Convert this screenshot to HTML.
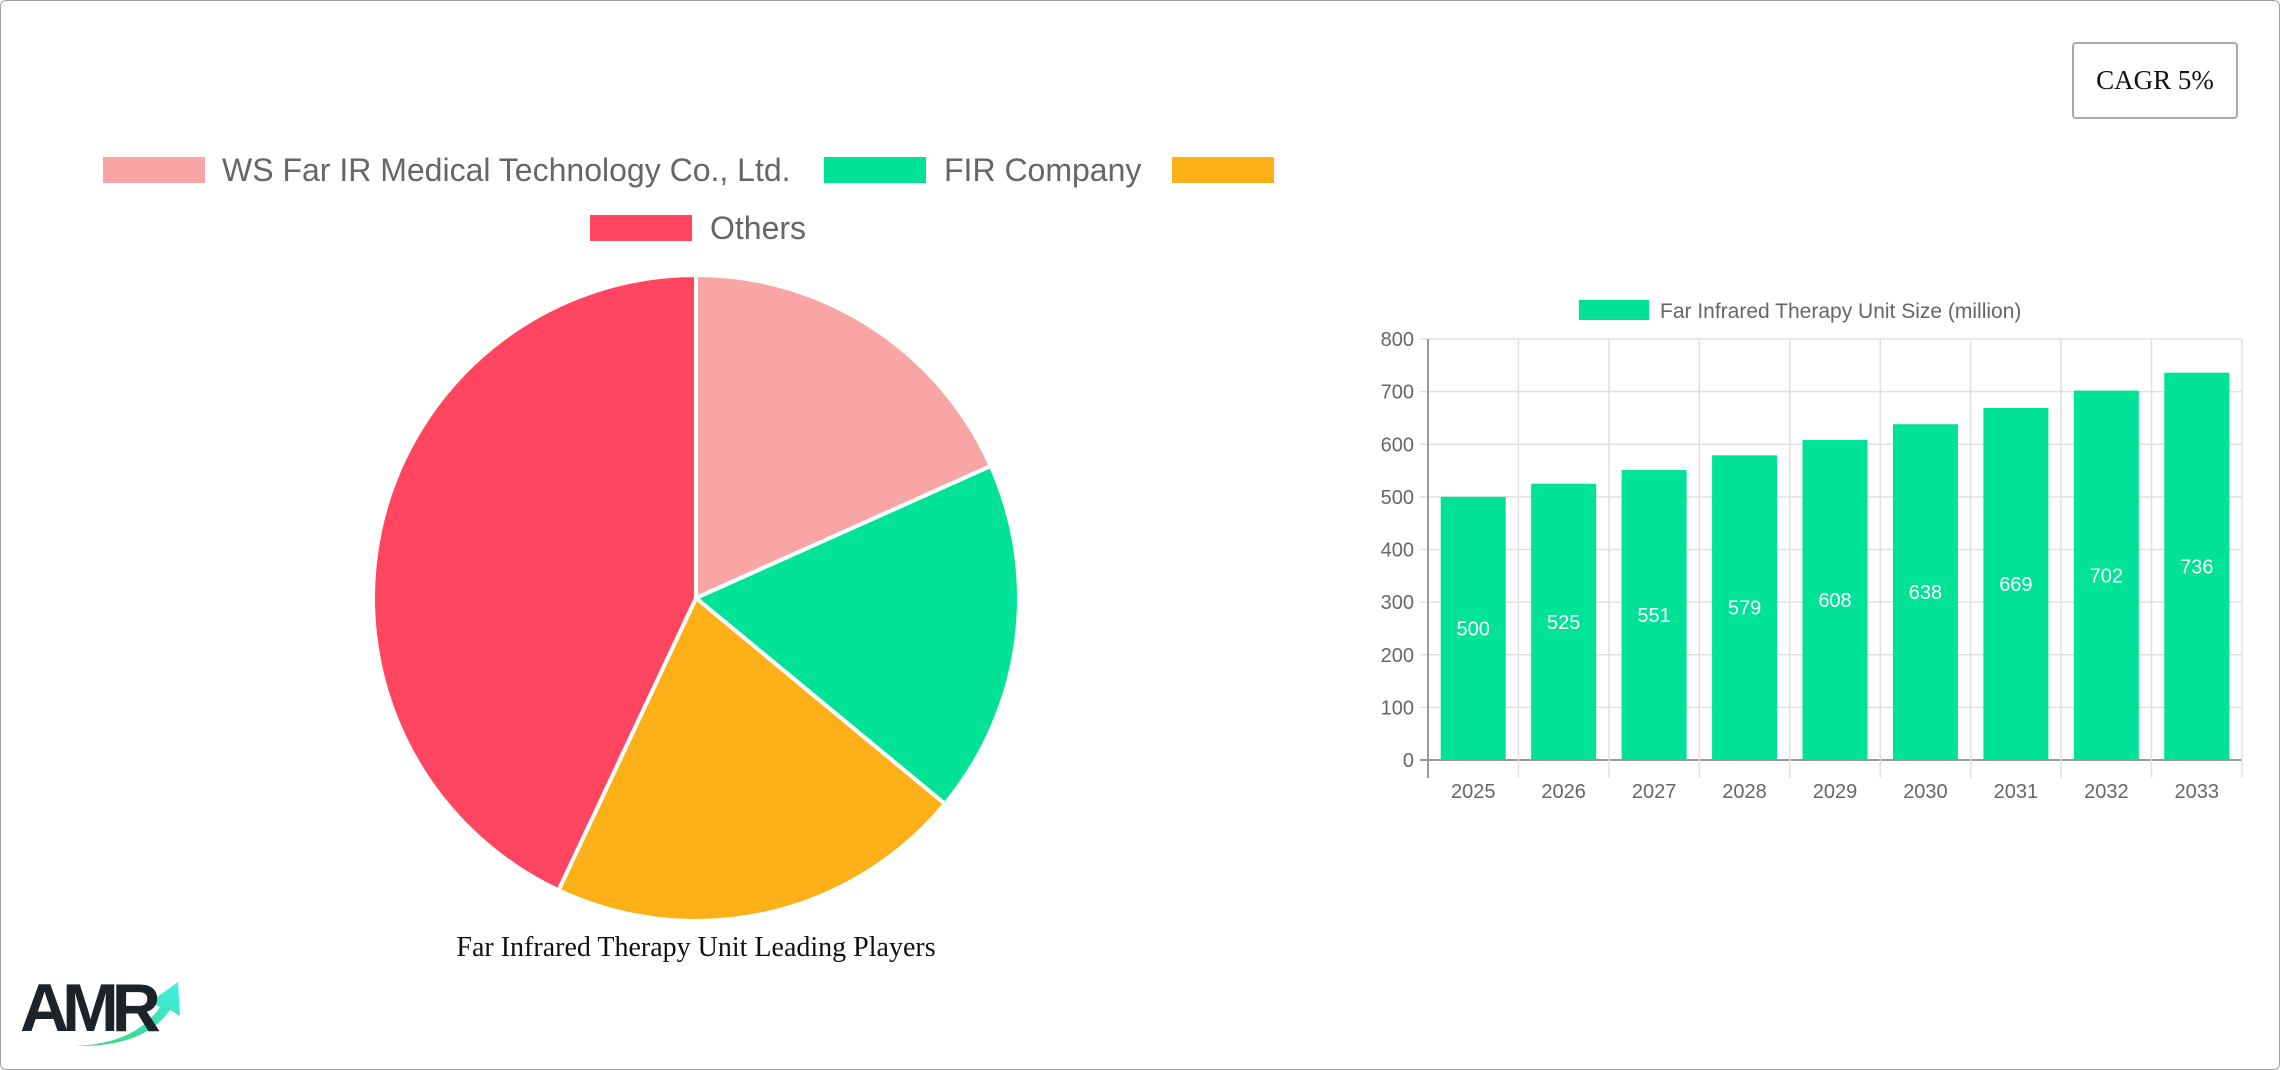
<!DOCTYPE html>
<html><head><meta charset="utf-8"><style>
html,body{margin:0;padding:0;background:#fff;}
#root{position:relative;width:2280px;height:1070px;overflow:hidden;font-family:"Liberation Sans",sans-serif;}
#frame{position:absolute;left:0;top:0;width:2278px;height:1068px;border:1px solid #a0a0a0;border-radius:6px;}
#cagr{position:absolute;left:2072px;top:42px;width:162px;height:73px;border:2px solid #aaa;border-radius:4px;font-family:"Liberation Serif",serif;font-size:27px;color:#111;display:flex;align-items:center;justify-content:center;}
.leg{position:absolute;font-size:32px;color:#666;line-height:32px;}
.box{position:absolute;height:26px;width:102px;}
#ptitle{position:absolute;left:296px;width:800px;top:932px;text-align:center;font-family:"Liberation Serif",serif;font-size:28px;color:#111;}
</style></head><body>
<div id="root">
<div id="frame"></div>
<div id="cagr">CAGR 5%</div>

<div class="box" style="left:103px;top:157px;background:#f9a5a6"></div>
<div class="leg" style="left:222px;top:154px">WS Far IR Medical Technology Co., Ltd.</div>
<div class="box" style="left:824px;top:157px;background:#00e396"></div>
<div class="leg" style="left:944px;top:154px">FIR Company</div>
<div class="box" style="left:1172px;top:157px;background:#feb019"></div>
<div class="box" style="left:590px;top:215px;background:#ff4560"></div>
<div class="leg" style="left:710px;top:212px">Others</div>

<svg id="pie" width="2280" height="1070" style="position:absolute;left:0;top:0"></svg>
<div id="ptitle">Far Infrared Therapy Unit Leading Players</div>

<svg id="bar" width="2280" height="1070" style="position:absolute;left:0;top:0"></svg>

<div style="position:absolute;left:20px;top:972px;width:170px;height:80px;">
<svg width="170" height="80" style="position:absolute;left:0;top:0">
<defs><linearGradient id="g" x1="0" y1="1" x2="1" y2="0"><stop offset="0" stop-color="#3ecf6e"/><stop offset="1" stop-color="#3ff0e8"/></linearGradient></defs>
<path d="M55 74 Q115 72 140 35 L130 30 L158 10 L160 44 L150 38 Q125 75 55 74 Z" fill="url(#g)"/>
</svg>
<div style="position:absolute;left:0;top:0;font-family:'Liberation Sans',sans-serif;font-weight:bold;font-size:68px;letter-spacing:-7px;color:#1c2429;line-height:72px;">AMR</div>
</div>
</div>
<script>
const pieLabels=["WS Far IR Medical Technology Co., Ltd.","FIR Company","Third Player","Others"];
const pieValues=[18.3,17.7,21,43];
const pieColors=["#f9a5a6","#00e396","#feb019","#ff4560"];
const years=["2025","2026","2027","2028","2029","2030","2031","2032","2033"];
const sizes=[500,525,551,579,608,638,669,702,736];
const yTicks=[0,100,200,300,400,500,600,700,800];
const NS="http://www.w3.org/2000/svg";
function mk(p,t,a){const e=document.createElementNS(NS,t);for(const k in a)e.setAttribute(k,a[k]);p.appendChild(e);return e;}
const pie=document.getElementById('pie');
const cx=696,cy=598,r=323;
const tot=pieValues.reduce((a,b)=>a+b,0);
let ang=0;
pieValues.forEach((v,i)=>{
  const a0=ang,a1=ang+v/tot*2*Math.PI;ang=a1;
  const x0=cx+r*Math.sin(a0),y0=cy-r*Math.cos(a0),x1=cx+r*Math.sin(a1),y1=cy-r*Math.cos(a1);
  const p=mk(pie,'path',{d:`M${cx} ${cy} L${x0} ${y0} A${r} ${r} 0 ${a1-a0>Math.PI?1:0} 1 ${x1} ${y1} Z`,fill:pieColors[i],stroke:'#fff','stroke-width':4});
  
  
});
const bar=document.getElementById('bar');
const L=1428,R=2242,T=339,B=760,ymax=800;
const yS=v=>B-(v/ymax)*(B-T);
const cw=(R-L)/years.length;
yTicks.forEach(t=>{
  const y=yS(t);
  const gl=mk(bar,'line',{x1:L-8,x2:R,y1:y,y2:y,stroke:t===0?'#999':'#e0e0e0','stroke-width':t===0?2:1.5});
  
  
  const tx=mk(bar,'text',{x:L-14,y:y+7,'text-anchor':'end','font-size':20,fill:'#666','font-family':'Liberation Sans'});
  tx.textContent=t;
  
  
});
for(let i=0;i<=years.length;i++){
  const x=L+i*cw;
  const vl=mk(bar,'line',{x1:x,x2:x,y1:T,y2:B+18,stroke:i===0?'#999':'#e0e0e0','stroke-width':i===0?2:1.5});
  
  
}
years.forEach((yr,i)=>{
  const xc=L+cw*(i+0.5),bw=65,y=yS(sizes[i]);
  const rc=mk(bar,'rect',{x:xc-bw/2,y:y,width:bw,height:B-y,fill:'#00e396'});
  
  
  const vt=mk(bar,'text',{x:xc,y:(y+B)/2+7,'text-anchor':'middle','font-size':20,fill:'#fff','font-family':'Liberation Sans'});
  vt.textContent=sizes[i];
  
  
  const xt=mk(bar,'text',{x:xc,y:798,'text-anchor':'middle','font-size':20,fill:'#666','font-family':'Liberation Sans'});
  xt.textContent=yr;
  
  
});
const lb=mk(bar,'rect',{x:1579,y:300,width:70,height:20,fill:'#00e396'});


const lt=mk(bar,'text',{x:1660,y:318,'font-size':21,fill:'#666','font-family':'Liberation Sans'});
lt.textContent='Far Infrared Therapy Unit Size (million)';


</script>
</body></html>
